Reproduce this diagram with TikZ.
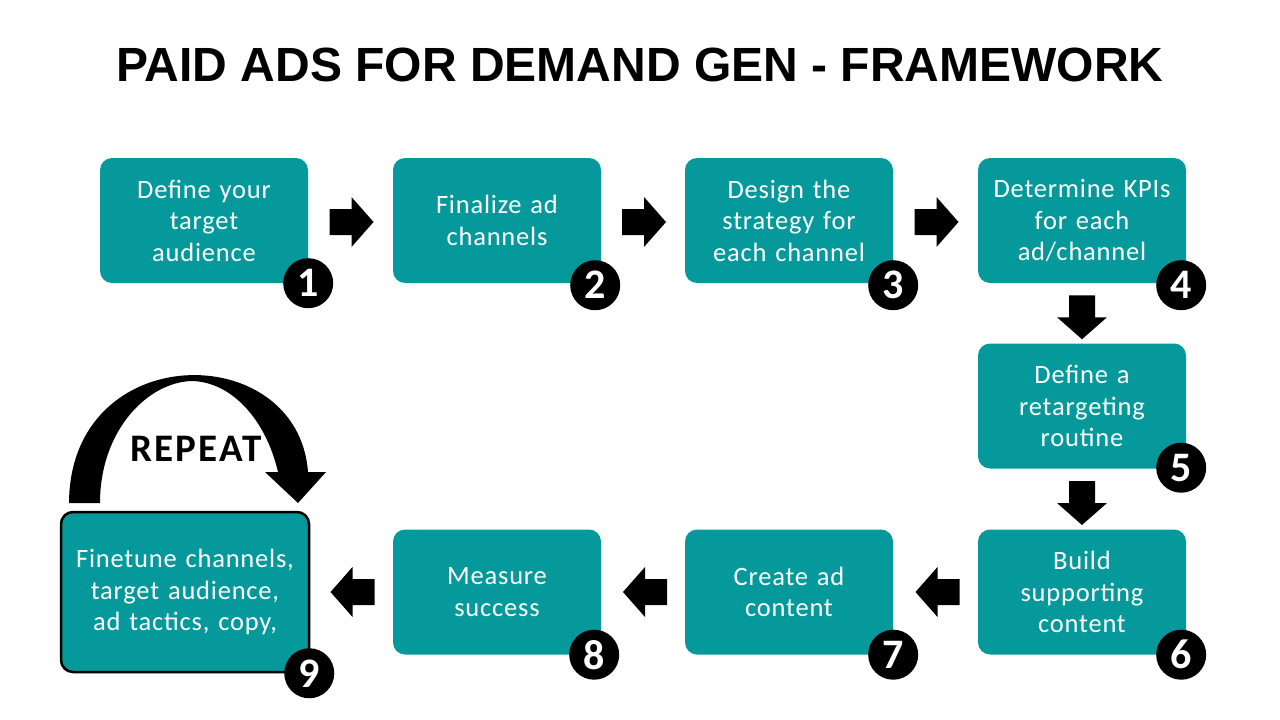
\documentclass[tikz,border=0pt]{standalone}
\usepackage{fontspec}
\setmainfont{Carlito}[LetterSpace=3]
\newfontfamily\numfont{Carlito}
\newfontfamily\repfont{Carlito}[LetterSpace=6]
\newfontfamily\titlefont{Liberation Sans}
\usetikzlibrary{calc}
\definecolor{teal1}{RGB}{5,153,155}
\tikzset{
  stepbox/.style={fill=teal1, rounded corners=12pt, minimum width=208pt, minimum height=125pt,
    text width=204pt, align=center, text=white, font=\fontsize{26.5}{31.5}\selectfont, inner sep=0pt},
  numc/.style={circle, fill=black, minimum size=50pt, inner sep=0pt, text=white,
    font=\numfont\fontsize{42}{42}\selectfont\bfseries},
  blockarrow/.pic={\fill[black] (-22,-13) -- (0,-13) -- (0,-25) -- (22,0) -- (0,25) -- (0,13) -- (-22,13) -- cycle;}
}
\begin{document}
\begin{tikzpicture}[x=1pt,y=-1pt]
\useasboundingbox (0,0) rectangle (1280,720);
\node[font=\titlefont\fontsize{48}{48}\selectfont\bfseries] (title) at (640,65) {PAID ADS FOR DEMAND GEN - FRAMEWORK};

\node[stepbox] (b1) at (204,220.5) {Define your\\target\\audience};
\node[stepbox] (b2) at (497,220.5) {Finalize ad\\channels};
\node[stepbox] (b3) at (789,220.5) {Design the\\strategy for\\each channel};
\node[stepbox] (b4) at (1082,220.5) {Determine KPIs\\for each\\ad/channel};
\node[stepbox] (b5) at (1082,406) {Define a\\retargeting\\routine};
\node[stepbox] (b6) at (1082,592) {Build\\supporting\\content};
\node[stepbox] (b7) at (789,592) {Create ad\\content};
\node[stepbox] (b8) at (497,592) {Measure\\success};
\node[stepbox, draw=black, line width=2.5pt, minimum width=248pt, minimum height=160pt, text width=244pt] (b9) at (185,592) {Finetune channels,\\target audience,\\ad tactics, copy,};

\node[numc] (n1) at (b1.south east) {1};
\node[numc] (n2) at ($(b2.south east)+(-6,2)$) {2};
\node[numc] (n3) at ($(b3.south east)+(0,2)$) {3};
\node[numc] (n4) at ($(b4.south east)+(-5,2)$) {4};
\node[numc] (n5) at ($(b5.south east)+(-5,-1)$) {5};
\node[numc] (n6) at ($(b6.south east)+(-5,0)$) {6};
\node[numc] (n7) at ($(b7.south east)+(0,0)$) {7};
\node[numc] (n8) at ($(b8.south east)+(-7,0)$) {8};
\node[numc] (n9) at ($(b9.south east)+(-1,0)$) {9};

\pic at ($(b1.east)!0.5!(b2.west)+(1,1.5)$) {blockarrow};
\pic at ($(b2.east)!0.5!(b3.west)+(1,1.5)$) {blockarrow};
\pic at ($(b3.east)!0.5!(b4.west)+(1,1.5)$) {blockarrow};
\pic[rotate=-90] at ($(b4.south)!0.5!(b5.north)+(0,4)$) {blockarrow};
\pic[rotate=-90] at ($(b5.south)!0.5!(b6.north)+(0,4)$) {blockarrow};
\pic[rotate=180] at ($(b6.west)!0.5!(b7.east)+(2,0)$) {blockarrow};
\pic[rotate=180] at ($(b7.west)!0.5!(b8.east)+(2,0)$) {blockarrow};
\pic[rotate=180] at ($(b8.west)!0.5!(b9.east)+(1,0)$) {blockarrow};

% repeat arrow
\coordinate (rl) at (69,503);
\fill[black] (rl) .. controls (70,338) and (298,338) .. (308,472)
  -- (326,472) -- (298,503) -- (265,472) -- (278,472)
  .. controls (266,420) and (232,382) .. (192,381)
  .. controls (148,382) and (100,430) .. (100,503) -- cycle;
\node[font=\repfont\fontsize{39}{39}\selectfont\bfseries] (rep) at (196,449) {REPEAT};
\end{tikzpicture}
\end{document}
